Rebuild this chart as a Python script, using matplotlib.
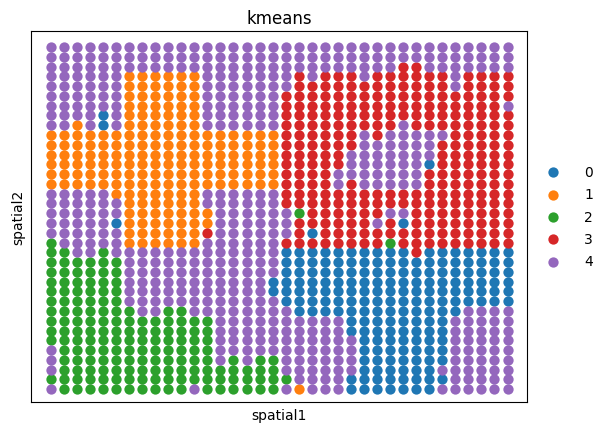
import matplotlib
matplotlib.use('Agg')
import matplotlib.pyplot as plt
import numpy as np

# cluster label per spot, one string per row (top to bottom), columns left to right
rows = [
    "444444444444" "444444444444" "444444444444",
    "444444444444" "444444444444" "444444444444",
    "444444444444" "444444444444" "444334444444",
    "444444111111" "444444434333" "433333343333",
    "444444111111" "444444433333" "333333343333",
    "444444111111" "444444333333" "333333333333",
    "444444111111" "444444333333" "333333333334",
    "444404111111" "444444333333" "333333333333",
    "441404111111" "444444333333" "333433333333",
    "111111111111" "111111333333" "434444433333",
    "111111111111" "111111333333" "444444333333",
    "111111111111" "111111333334" "444444333333",
    "111111111111" "111111333334" "444440333333",
    "111111111111" "111111333344" "444443333333",
    "111111111111" "111111333343" "444443333333",
    "444441111111" "444444333333" "333333333333",
    "444444111111" "444444333333" "333333333333",
    "444444111111" "144444423333" "334433333333",
    "444440111111" "144444433333" "343033333333",
    "444444111111" "344444430333" "333333333333",
    "244444111111" "444444333333" "332333333333",
    "224424444444" "444444000000" "000030000000",
    "222222444444" "444444000000" "000000000000",
    "222222444444" "444444000000" "000000000000",
    "222222444444" "444440000000" "000000000000",
    "222222444444" "444440000000" "000000000000",
    "222222444444" "444444000000" "000000000000",
    "222222244224" "444444400000" "000000004444",
    "222222222222" "244444444440" "000000044444",
    "222222222222" "244444444440" "000000044444",
    "222222222222" "244444444444" "000000044444",
    "422222222222" "244444444444" "000000044444",
    "422222222222" "242422444444" "000000044444",
    "422222222222" "222222444444" "000000444444",
    "222222222222" "222222244440" "000000044444",
    "422222222224" "222222414440" "000000444444",
]
clusters = ['0', '1', '2', '3', '4']
colors = ['#1f77b4', '#ff7f0e', '#2ca02c', '#d62728', '#9467bd']

labels = np.array([list(r) for r in rows])
yy, xx = np.mgrid[0:labels.shape[0], 0:labels.shape[1]]

fig = plt.figure(figsize=(6.01, 4.31), dpi=100)
ax = fig.add_axes([0.052, 0.065, 0.825, 0.86])
for c, col in zip(clusters, colors):
    m = labels == c
    ax.scatter(xx[m], yy[m], s=55, color=col, label=c, linewidths=0)

ax.set_xlim(-1.5, 36.5)
ax.set_ylim(36.3, -1.6)
ax.set_xticks([])
ax.set_yticks([])
ax.set_xlabel('spatial1')
ax.set_ylabel('spatial2')
ax.set_title('kmeans')
ax.legend(loc='center left', bbox_to_anchor=(1.0, 0.5), frameon=False, markerscale=1.0,
          handletextpad=1.2, labelspacing=0.6)

fig.savefig('out.png', dpi=100)
